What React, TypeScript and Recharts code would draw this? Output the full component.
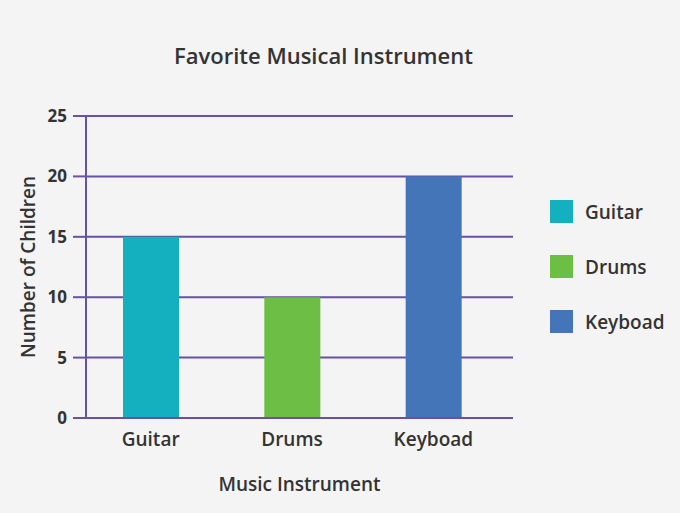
import { BarChart, Bar, XAxis, YAxis, CartesianGrid, Cell } from 'recharts';

const instruments = ['Guitar', 'Drums', 'Keyboad'];
const children = [15, 10, 20];
const barColors = ['#14b0c0', '#6dbe45', '#4475b9'];
const yTicks = [0, 5, 10, 15, 20, 25];

const data = instruments.map((name, i) => ({ name, children: children[i] }));

const purple = '#6551a5';
const textColor = '#333333';

function LegendBox() {
  return (
    <div style={{ position: 'absolute', left: 550, top: 200 }}>
      {instruments.map((name, i) => (
        <div key={name} style={{ display: 'flex', alignItems: 'center', height: 23, marginBottom: 32 }}>
          <div style={{ width: 23, height: 23, background: barColors[i] }} />
          <span style={{ marginLeft: 12, fontSize: 19, color: textColor, fontWeight: 600 }}>{name}</span>
        </div>
      ))}
    </div>
  );
}

export default function App() {
  return (
    <div
      style={{
        position: 'absolute',
        left: 0,
        top: 0,
        width: 680,
        height: 513,
        background: '#f4f4f4',
        fontFamily: '"Open Sans", sans-serif',
      }}
    >
      <div
        style={{
          position: 'absolute',
          top: 40,
          left: 0,
          width: 647,
          textAlign: 'center',
          fontSize: 22,
          fontWeight: 600,
          color: textColor,
        }}
      >
        Favorite Musical Instrument
      </div>
      <BarChart width={680} height={513} data={data} margin={{ top: 116, right: 167, left: 26, bottom: 0 }}>
        <CartesianGrid vertical={false} stroke={purple} strokeWidth={2} />
        <XAxis
          dataKey="name"
          height={95}
          padding={{ left: -6, right: 9 }}
          axisLine={{ stroke: purple, strokeWidth: 2 }}
          tickLine={false}
          tickSize={0}
          tickMargin={15}
          tick={{ fill: textColor, fontSize: 19, fontWeight: 600 }}
          label={{
            value: 'Music Instrument',
            position: 'insideBottom',
            offset: 22,
            fill: textColor,
            fontSize: 19,
            fontWeight: 600,
          }}
        />
        <YAxis
          width={60}
          domain={[0, 25]}
          ticks={yTicks}
          interval={0}
          axisLine={{ stroke: purple, strokeWidth: 2 }}
          tickLine={{ stroke: purple, strokeWidth: 2 }}
          tickSize={13}
          tickMargin={6}
          tick={{ fill: textColor, fontSize: 17, fontWeight: 700 }}
          label={{
            value: 'Number of Children',
            angle: -90,
            position: 'insideLeft',
            offset: 2,
            fill: textColor,
            fontSize: 19,
            fontWeight: 600,
            style: { textAnchor: 'middle' },
          }}
        />
        <Bar dataKey="children" barSize={56} isAnimationActive={false}>
          {data.map((d, i) => (
            <Cell key={d.name} fill={barColors[i]} />
          ))}
        </Bar>
      </BarChart>
      <LegendBox />
    </div>
  );
}
